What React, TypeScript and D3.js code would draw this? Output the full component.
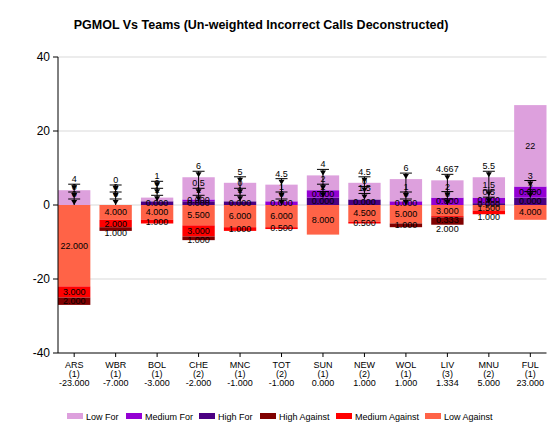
import React, { useEffect, useRef } from 'react';
import * as d3 from 'd3';

// teams, games played and net score under each bar
const teams = ['ARS', 'WBR', 'BOL', 'CHE', 'MNC', 'TOT', 'SUN', 'NEW', 'WOL', 'LIV', 'MNU', 'FUL'];
const games = [1, 1, 1, 2, 1, 2, 1, 2, 1, 3, 2, 1];
const netScore = [-23, -7, -3, -2, -1, -1, 0, 1, 1, 1.334, 5, 23];

// calls in favour (stacked upwards)
const lowFor = [4, 0, 1, 6, 5, 4.5, 4, 4.5, 6, 4.667, 5.5, 22];
const mediumFor = [0, 0, 0, 0.5, 0, 1, 2, 0, 1, 2, 1.5, 3];
const highFor = [0, 0, 1, 1, 1, 0, 2, 1.5, 0, 0, 0.5, 2];

// calls against (stacked downwards)
const lowAgainst = [22, 4, 4, 5.5, 6, 6, 8, 4.5, 5, 3, 1.5, 4];
const mediumAgainst = [3, 2, 1, 3, 1, 0.5, 0, 0.5, 0, 0.333, 1, 0];
const highAgainst = [2, 1, 0, 1, 0, 0, 0, 0, 1, 2, 0, 0];

const yTicks = [-40, -20, 0, 20, 40];
const innerForLabel = '0.000';

const legendItems = [
  { label: 'Low For', color: '#dda0dd' },
  { label: 'Medium For', color: '#9400d3' },
  { label: 'High For', color: '#4b0082' },
  { label: 'High Against', color: '#800000' },
  { label: 'Medium Against', color: '#ff0000' },
  { label: 'Low Against', color: '#ff6347' },
];

const FONT = '"Liberation Sans", Arial, sans-serif';

const App = () => {
  const ref = useRef(null);

  useEffect(() => {
    document.body.style.margin = '0';
    const width = 560;
    const height = 440;
    const left = 58;
    const right = 546.5;
    const top = 57;
    const bottom = 353;

    d3.select(ref.current).selectAll('*').remove();
    const svg = d3
      .select(ref.current)
      .append('svg')
      .attr('width', width)
      .attr('height', height)
      .style('display', 'block')
      .style('font-family', FONT);

    svg.append('rect').attr('width', width).attr('height', height).attr('fill', '#fff');

    const x = d3.scaleBand().domain(teams).range([left, right]).paddingInner(0.22).paddingOuter(0);
    const y = d3.scaleLinear().domain([-40, 40]).range([bottom, top]);
    const color = d3.scaleOrdinal().domain(legendItems.map(d => d.label)).range(legendItems.map(d => d.color));

    svg
      .append('text')
      .attr('x', 261)
      .attr('y', 29)
      .attr('text-anchor', 'middle')
      .style('font-size', '12.5px')
      .style('font-weight', 'bold')
      .text('PGMOL Vs Teams (Un-weighted Incorrect Calls Deconstructed)');

    // grid
    svg
      .append('g')
      .selectAll('line')
      .data(yTicks.filter(t => t > -40))
      .enter()
      .append('line')
      .attr('x1', left)
      .attr('x2', right)
      .attr('y1', d => y(d))
      .attr('y2', d => y(d))
      .attr('stroke', '#d9d9d9')
      .attr('stroke-width', 1);

    const rows = teams.map((t, i) => ({
      team: t,
      'High For': highFor[i],
      'Medium For': mediumFor[i],
      'Low For': lowFor[i],
      'Low Against': -lowAgainst[i],
      'Medium Against': -mediumAgainst[i],
      'High Against': -highAgainst[i],
    }));

    const keys = ['High For', 'Medium For', 'Low For', 'Low Against', 'Medium Against', 'High Against'];
    const stacked = d3.stack().keys(keys).offset(d3.stackOffsetDiverging)(rows);

    svg
      .append('g')
      .selectAll('g')
      .data(stacked)
      .enter()
      .append('g')
      .attr('fill', d => color(d.key))
      .selectAll('rect')
      .data(d => d)
      .enter()
      .append('rect')
      .attr('x', d => x(d.data.team))
      .attr('width', x.bandwidth())
      .attr('y', d => y(Math.max(d[0], d[1])))
      .attr('height', d => Math.abs(y(d[0]) - y(d[1])));

    const labels = svg.append('g').style('font-size', '9px').attr('text-anchor', 'middle').attr('fill', '#000');
    // plain hyphen for negatives, like the original
    const fmt3 = (v: number) => d3.format('.3f')(v).replace('\u2212', '-');

    teams.forEach((team, i) => {
      const cx = x(team) + x.bandwidth() / 2;

      // against labels, pushed down when they collide
      const against = [lowAgainst[i], mediumAgainst[i], highAgainst[i]];
      let cum = 0;
      let prev = -Infinity;
      against.forEach(v => {
        const mid = y(-(cum + v / 2));
        cum += v;
        if (v <= 0) return;
        const ly = Math.max(mid + 3, prev + 9);
        prev = ly;
        labels.append('text').attr('x', cx).attr('y', ly).text(fmt3(v));
      });

      // inner labels of medium / high for segments
      const hf = highFor[i];
      const mf = mediumFor[i];
      if (hf > 0) labels.append('text').attr('x', cx).attr('y', y(hf / 2) + 3).text(innerForLabel);
      if (mf > 0) labels.append('text').attr('x', cx).attr('y', y(hf + mf / 2) + 3).text(innerForLabel);

      // markers for the "for" values
      const total = hf + mf + lowFor[i];
      const capHigh = y(hf) - 6;
      const capMed = Math.min(y(hf + mf) - 6, capHigh - 7);
      const lowInside = y(hf + mf) - y(total) > 40;
      const capLow = Math.min(y(total) - 6, capMed - 7);
      const marks = [
        { cap: capHigh, v: hf },
        { cap: capMed, v: mf },
      ];
      if (!lowInside) marks.push({ cap: capLow, v: lowFor[i] });
      else labels.append('text').attr('x', cx).attr('y', y(hf + mf + lowFor[i] / 2) + 3).text(String(lowFor[i]));

      const mg = svg.append('g');
      mg.append('line')
        .attr('x1', cx)
        .attr('x2', cx)
        .attr('y1', d3.min(marks, m => m.cap))
        .attr('y2', capHigh + 6)
        .attr('stroke', '#000');
      marks.forEach(m => {
        mg.append('line')
          .attr('x1', cx - 6)
          .attr('x2', cx + 6)
          .attr('y1', m.cap)
          .attr('y2', m.cap)
          .attr('stroke', '#000');
        mg.append('path')
          .attr('d', `M${cx - 3},${m.cap + 1}L${cx + 3},${m.cap + 1}L${cx},${m.cap + 6}Z`)
          .attr('fill', '#000');
        mg.append('text')
          .attr('x', cx)
          .attr('y', m.cap - 2)
          .attr('text-anchor', 'middle')
          .style('font-size', '9px')
          .text(String(m.v));
      });
    });

    // y axis
    const yAxis = svg.append('g');
    yAxis.append('line').attr('x1', left).attr('x2', left).attr('y1', top).attr('y2', bottom).attr('stroke', '#000');
    yTicks.forEach(t => {
      yAxis.append('line').attr('x1', left - 5).attr('x2', left).attr('y1', y(t)).attr('y2', y(t)).attr('stroke', '#000');
      yAxis
        .append('text')
        .attr('x', left - 8)
        .attr('y', y(t) + 4)
        .attr('text-anchor', 'end')
        .style('font-size', '12px')
        .text(String(t));
    });

    // x axis
    const xAxis = svg.append('g');
    xAxis.append('line').attr('x1', left).attr('x2', right).attr('y1', bottom).attr('y2', bottom).attr('stroke', '#000');
    teams.forEach((t, i) => {
      const cx = x(t) + x.bandwidth() / 2;
      xAxis.append('line').attr('x1', cx).attr('x2', cx).attr('y1', bottom).attr('y2', bottom + 4).attr('stroke', '#000');
      const lines = [t, `(${games[i]})`, fmt3(netScore[i])];
      lines.forEach((s, k) => {
        xAxis
          .append('text')
          .attr('x', cx)
          .attr('y', 368 + k * 9)
          .attr('text-anchor', 'middle')
          .style('font-size', '9px')
          .text(s);
      });
    });

    // legend
    const legendX = [67, 126, 199, 260, 336, 425];
    const legend = svg.append('g');
    legendItems.forEach((item, i) => {
      const g = legend.append('g').attr('transform', `translate(${legendX[i]}, 413)`);
      g.append('rect').attr('width', 16).attr('height', 6).attr('fill', item.color);
      g.append('text').attr('x', 19).attr('y', 6.5).style('font-size', '9px').text(item.label);
    });
  }, []);

  return <div ref={ref}></div>;
};

export default App;
